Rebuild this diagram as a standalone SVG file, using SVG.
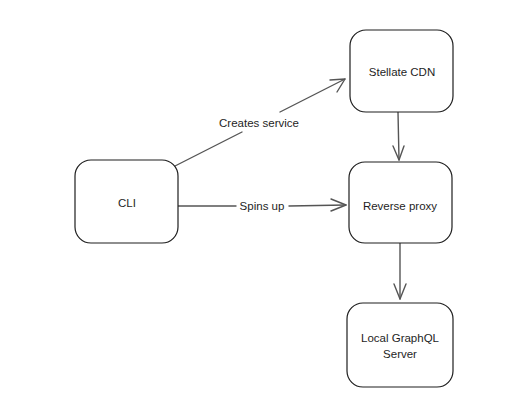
<svg xmlns="http://www.w3.org/2000/svg" width="518" height="415" viewBox="0 0 518 415">
<style>
.box{fill:#fff;stroke:#1e1e1e;stroke-width:1.2}
.lbl{font-family:"Liberation Sans",Arial,sans-serif;font-size:11.5px;fill:#1e1e1e;text-anchor:middle;dominant-baseline:central}
.edge{fill:none;stroke:#555;stroke-width:1.4;stroke-linecap:round}
.head{fill:none;stroke:#555;stroke-width:1.4;stroke-linecap:round;stroke-linejoin:round}
</style>
<rect width="518" height="415" fill="#fff"/>
<g id="connectors">
<path class="edge" d="M175,166 L242,132 M280,112 L345,79"/>
<path class="head" d="M330,80 L345,79 L337,92"/>
<path class="edge" d="M178,206 L236,206 M289,206 L346,205"/>
<path class="head" d="M331,199 L346,205 L331,211"/>
<path class="edge" d="M398,112 L399,160"/>
<path class="head" d="M393,146 L399,160 L404,146"/>
<path class="edge" d="M400,243 L400,299"/>
<path class="head" d="M394,284 L400,299 L406,284"/>
<text class="lbl" x="259" y="123">Creates service</text>
<text class="lbl" x="262" y="206">Spins up</text>
</g>
<g id="cli">
<rect class="box" x="75" y="160" width="103" height="83" rx="16"/>
<text class="lbl" x="127" y="203">CLI</text>
</g>
<g id="cdn">
<rect class="box" x="350" y="30" width="103" height="82" rx="16"/>
<text class="lbl" x="402" y="72">Stellate CDN</text>
</g>
<g id="proxy">
<rect class="box" x="349" y="162" width="103" height="81" rx="16"/>
<text class="lbl" x="400" y="206">Reverse proxy</text>
</g>
<g id="graphql">
<rect class="box" x="347" y="303" width="106" height="84" rx="16"/>
<text class="lbl" x="400" y="338">Local GraphQL</text>
<text class="lbl" x="400" y="354">Server</text>
</g>
</svg>
